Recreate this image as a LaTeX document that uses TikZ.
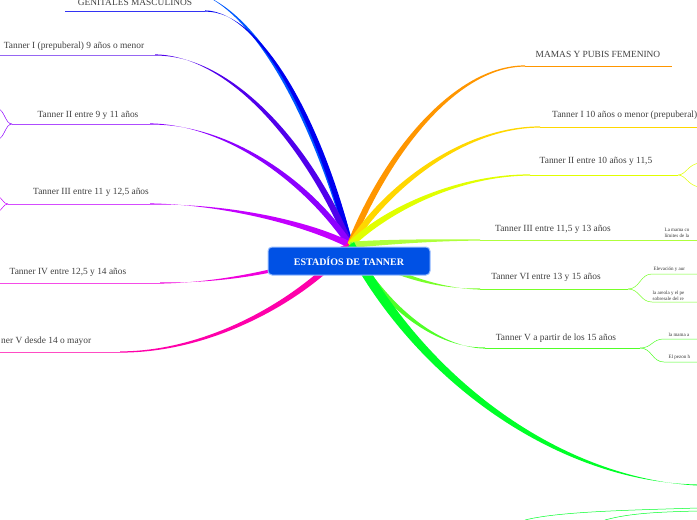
\documentclass[tikz,border=0pt]{standalone}
\usepackage{fontspec}
\setmainfont{Liberation Serif}
\begin{document}
\begin{tikzpicture}[x=1pt,y=-1pt,
  lbl/.style={font=\fontsize{9.4}{10}\selectfont,text=black!75,inner sep=1pt,anchor=south},
  sml/.style={font=\fontsize{5}{6}\selectfont,text=black!80,inner sep=0.5pt,anchor=south west,align=left}]
\useasboundingbox (0,0) rectangle (697,520);
\clip (0,0) rectangle (697,520);
% tapered branch: #1 color, #2 end x, #3 end y, #4 ox, #5 oy
\newcommand\br[5]{%
  \pgfmathsetmacro\dx{#2-350}\pgfmathsetmacro\dy{#3-245}%
  \fill[#1] (350-#4,245-#5) .. controls ({350+0.2*\dx-#4},{245+0.5*\dy-#5}) and ({350+0.6*\dx-0.3*#4},{#3-0.3*#5}) .. (#2,#3-0.6)
   -- (#2,#3+0.6) .. controls ({350+0.6*\dx+0.3*#4},{#3+0.3*#5}) and ({350+0.2*\dx+#4},{245+0.5*\dy+#5}) .. (350+#4,245+#5) -- cycle;}
\definecolor{cA}{RGB}{0,0,240}\definecolor{cB}{RGB}{0,90,255}
\definecolor{cC}{RGB}{80,0,235}\definecolor{cD}{RGB}{140,0,255}
\definecolor{cE}{RGB}{195,0,255}\definecolor{cF}{RGB}{240,0,220}
\definecolor{cG}{RGB}{255,0,170}
\definecolor{cH}{RGB}{255,150,0}\definecolor{cI}{RGB}{255,215,0}
\definecolor{cJ}{RGB}{225,255,0}\definecolor{cK}{RGB}{175,255,60}
\definecolor{cL}{RGB}{120,255,40}\definecolor{cM}{RGB}{80,255,40}
\definecolor{cN}{RGB}{0,255,40}
\tikzset{ul/.style={line width=0.9pt}}
% left
\br{cB}{180}{-10}{2.8}{-1.5}
\br{cA}{205}{11}{2.5}{-1.5}
\draw[cA!80!white,ul] (65,11) -- (205,11);
\node[lbl] (gm) at (135,7) {GENITALES MASCULINOS};
\br{cC}{155}{55}{2.5}{-2}
\draw[cC!60!white,ul] (0,55) -- (155,55);
\node[lbl] (t1) at (74,52) {Tanner I (prepuberal) 9 años o menor};
\br{cD}{150}{124}{2.2}{-2.2}
\draw[cD!70!white,ul] (12,124) -- (150,124);
\draw[cD,line width=0.5pt] (12,124) .. controls (5,124) and (5,110) .. (-3,108);
\draw[cD,line width=0.5pt] (12,124) .. controls (5,124) and (5,138) .. (-3,140);
\node[lbl] (t2) at (88,121) {Tanner II entre 9 y 11 años};
\br{cE}{150}{204}{1.5}{-2.8}
\draw[cE!70!white,ul] (8,204) -- (150,204);
\draw[cE,line width=0.5pt] (8,204) .. controls (3,204) and (3,198) .. (-3,196);
\draw[cE,line width=0.5pt] (8,204) .. controls (3,204) and (3,210) .. (-3,212);
\node[lbl] (t3) at (91,198) {Tanner III entre 11 y 12,5 años};
\br{cF}{160}{283}{0.8}{-3}
\draw[cF!70!white,ul] (0,283) -- (160,283);
\node[lbl] (t4) at (68,278) {Tanner IV entre 12,5 y 14 años};
\br{cG}{120}{352}{1.5}{2.8}
\draw[cG!70!white,ul] (0,352) -- (120,352);
\node[lbl,anchor=south west] (t5) at (0,347) {ner V desde 14 o mayor};
% right
\br{cH}{525}{66}{2.5}{2}
\draw[cH,ul] (525,66) -- (672,66);
\node[lbl] (mp) at (598,59) {MAMAS Y PUBIS FEMENINO};
\br{cI}{540}{127}{2.2}{2.2}
\draw[cI,ul] (540,127) -- (697,127);
\node[lbl,anchor=south west] (r1) at (551,121) {Tanner I 10 años o menor (prepuberal)};
\br{cJ}{530}{175}{2}{2.5}
\draw[cJ,ul] (530,175) -- (678,175);
\draw[cJ,line width=0.5pt] (678,175) .. controls (686,175) and (688,164) .. (700,163);
\draw[cJ,line width=0.5pt] (678,175) .. controls (686,175) and (688,186) .. (700,187);
\node[lbl] (r2) at (596,167) {Tanner II entre 10 años y 11,5};
\br{cK}{480}{240}{1}{3}
\draw[cK,ul] (480,240) -- (697,240);
\node[lbl] (r3) at (553,235) {Tanner III entre 11,5 y 13 años};
\node[sml] (r3a) at (664,238) {La mama co\\límites de la};
\br{cL}{480}{289}{0.8}{-3}
\draw[cL,ul] (480,289) -- (628,289);
\draw[cL,line width=0.5pt] (628,289) .. controls (640,289) and (640,274) .. (652,274) -- (697,274);
\draw[cL,line width=0.5pt] (628,289) .. controls (640,289) and (640,302) .. (652,302) -- (697,302);
\node[lbl] (r4) at (546,283) {Tanner VI entre 13 y 15 años};
\node[sml] (r4a) at (653,272) {Elevación y aur};
\node[sml] (r4b) at (652,301) {la areola y el pe\\sobresale del re};
\br{cM}{485}{348}{2}{-2.5}
\draw[cM,ul] (485,348) -- (640,348);
\draw[cM,line width=0.5pt] (640,348) .. controls (652,348) and (652,339) .. (664,339) -- (697,339);
\draw[cM,line width=0.5pt] (640,348) .. controls (652,348) and (652,362) .. (664,362) -- (697,362);
\node[lbl] (r5) at (556,344) {Tanner V a partir de los 15 años};
\node[sml] (r5a) at (668,337) {la mama a};
\node[sml] (r5b) at (668,360) {El pezon h};
\fill[cN] (346,248) .. controls (418,384) and (560,482) .. (697,484.5)
   -- (697,485.5) .. controls (560,478) and (424,378) .. (354,242) -- cycle;
\draw[cN,line width=0.5pt] (525,520) .. controls (560,511) and (640,510) .. (697,508);
\draw[cN,line width=0.5pt] (605,520) .. controls (630,513) and (660,512) .. (697,511);
% root
\node[fill=cB!90!black,rounded corners=4pt,draw=cB!40,line width=1pt,minimum width=162pt,minimum height=28pt,text=white,font=\fontsize{10}{12}\selectfont\bfseries] (root) at (349,261) {ESTADÍOS DE TANNER};
\end{tikzpicture}
\end{document}
